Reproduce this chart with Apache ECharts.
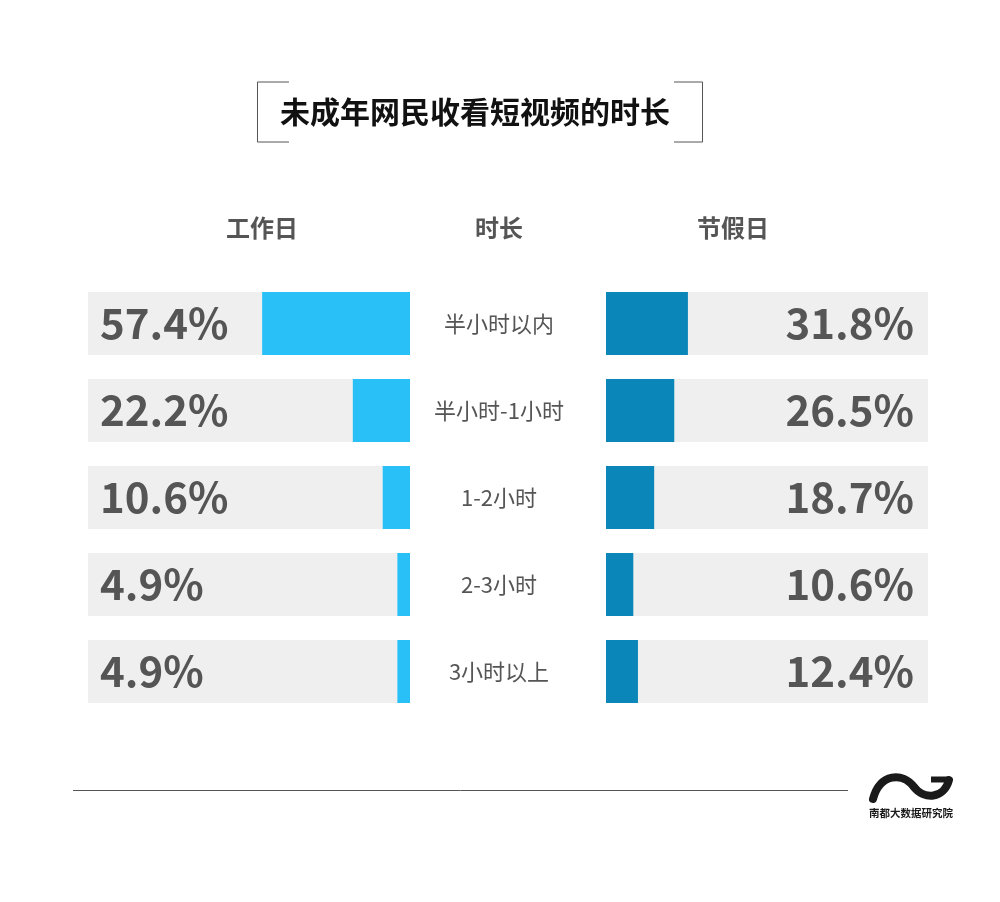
<!DOCTYPE html>
<html>
<head>
<meta charset="utf-8">
<script src="https://cdn.jsdelivr.net/npm/echarts@6/dist/echarts.min.js"></script>
<style>
  html, body { margin: 0; padding: 0; background: #fff; }
  #main { width: 1000px; height: 902px; }
</style>
</head>
<body>
<div id="main"></div>
<script>
// 时长分类
const categories = ['半小时以内', '半小时-1小时', '1-2小时', '2-3小时', '3小时以上'];
// 工作日 / 节假日 占比 (%)
const workday = [57.4, 22.2, 10.6, 4.9, 4.9];
const holiday = [31.8, 26.5, 18.7, 10.6, 12.4];
const axisMax = 125;
const full = categories.map(() => axisMax);

const font = '"Noto Sans CJK SC", "Noto Sans", sans-serif';
const chart = echarts.init(document.getElementById('main'));

chart.setOption({
  backgroundColor: '#fff',
  animation: false,
  textStyle: { fontFamily: font },
  grid: [
    { left: 88, width: 322, top: 280, height: 435 },
    { left: 606, width: 322, top: 280, height: 435 }
  ],
  xAxis: [
    { gridIndex: 0, type: 'value', min: 0, max: axisMax, inverse: true, show: false },
    { gridIndex: 1, type: 'value', min: 0, max: axisMax, show: false }
  ],
  yAxis: [
    {
      gridIndex: 0, type: 'category', data: categories, inverse: true, position: 'right',
      axisLine: { show: false }, axisTick: { show: false }, splitLine: { show: false },
      axisLabel: { margin: 89, align: 'center', color: '#555', fontSize: 22, fontFamily: font }
    },
    {
      gridIndex: 1, type: 'category', data: categories, inverse: true, show: false
    }
  ],
  series: [
    {
      type: 'bar', xAxisIndex: 0, yAxisIndex: 0, data: full, barWidth: 63, barGap: '-100%',
      itemStyle: { color: '#efefef' }, silent: true, z: 1,
      label: {
        show: true, position: 'insideLeft', distance: 12,
        formatter: p => workday[p.dataIndex].toFixed(1) + '%',
        color: '#555', fontSize: 42, fontWeight: 'bold', fontFamily: font
      }
    },
    {
      type: 'bar', xAxisIndex: 0, yAxisIndex: 0, data: workday, barWidth: 63,
      itemStyle: { color: '#29c0f8' }, z: 2
    },
    {
      type: 'bar', xAxisIndex: 1, yAxisIndex: 1, data: full, barWidth: 63, barGap: '-100%',
      itemStyle: { color: '#efefef' }, silent: true, z: 1,
      label: {
        show: true, position: 'insideRight', distance: 14,
        formatter: p => holiday[p.dataIndex].toFixed(1) + '%',
        color: '#555', fontSize: 42, fontWeight: 'bold', fontFamily: font
      }
    },
    {
      type: 'bar', xAxisIndex: 1, yAxisIndex: 1, data: holiday, barWidth: 63,
      itemStyle: { color: '#0a86b8' }, z: 2
    }
  ],
  graphic: [
    // 标题
    { type: 'text', x: 475, y: 112, style: { text: '未成年网民收看短视频的时长', font: 'bold 30px ' + font, fill: '#111', align: 'center', verticalAlign: 'middle' } },
    { type: 'polyline', shape: { points: [[289, 82], [257.5, 82], [257.5, 142], [289, 142]] }, style: { stroke: '#555', lineWidth: 1, fill: null } },
    { type: 'polyline', shape: { points: [[674, 82], [702.5, 82], [702.5, 142], [674, 142]] }, style: { stroke: '#555', lineWidth: 1, fill: null } },
    // 列标题
    { type: 'text', x: 262, y: 228, style: { text: '工作日', font: 'bold 24px ' + font, fill: '#555', align: 'center', verticalAlign: 'middle' } },
    { type: 'text', x: 499, y: 228, style: { text: '时长', font: 'bold 24px ' + font, fill: '#555', align: 'center', verticalAlign: 'middle' } },
    { type: 'text', x: 733, y: 228, style: { text: '节假日', font: 'bold 24px ' + font, fill: '#555', align: 'center', verticalAlign: 'middle' } },
    // 底线
    { type: 'line', shape: { x1: 73, y1: 790.5, x2: 848, y2: 790.5 }, style: { stroke: '#555', lineWidth: 1 } },
    // logo
    {
      type: 'bezierCurve',
      shape: { x1: 873, y1: 799, cpx1: 880, cpy1: 773, cpx2: 903, cpy2: 772, x2: 914, y2: 787 },
      style: { stroke: '#1a1a1a', lineWidth: 8, fill: null, lineCap: 'round' }
    },
    {
      type: 'bezierCurve',
      shape: { x1: 914, y1: 787, cpx1: 924, cpy1: 800, cpx2: 944, cpy2: 799, x2: 949, y2: 780 },
      style: { stroke: '#1a1a1a', lineWidth: 8, fill: null, lineCap: 'round' }
    },
    { type: 'line', shape: { x1: 931, y1: 779.5, x2: 950, y2: 779.5 }, style: { stroke: '#1a1a1a', lineWidth: 6 } },
    { type: 'text', x: 911, y: 813, style: { text: '南都大数据研究院', font: 'bold 10.5px ' + font, fill: '#1a1a1a', align: 'center', verticalAlign: 'middle' } }
  ]
});
</script>
</body>
</html>
